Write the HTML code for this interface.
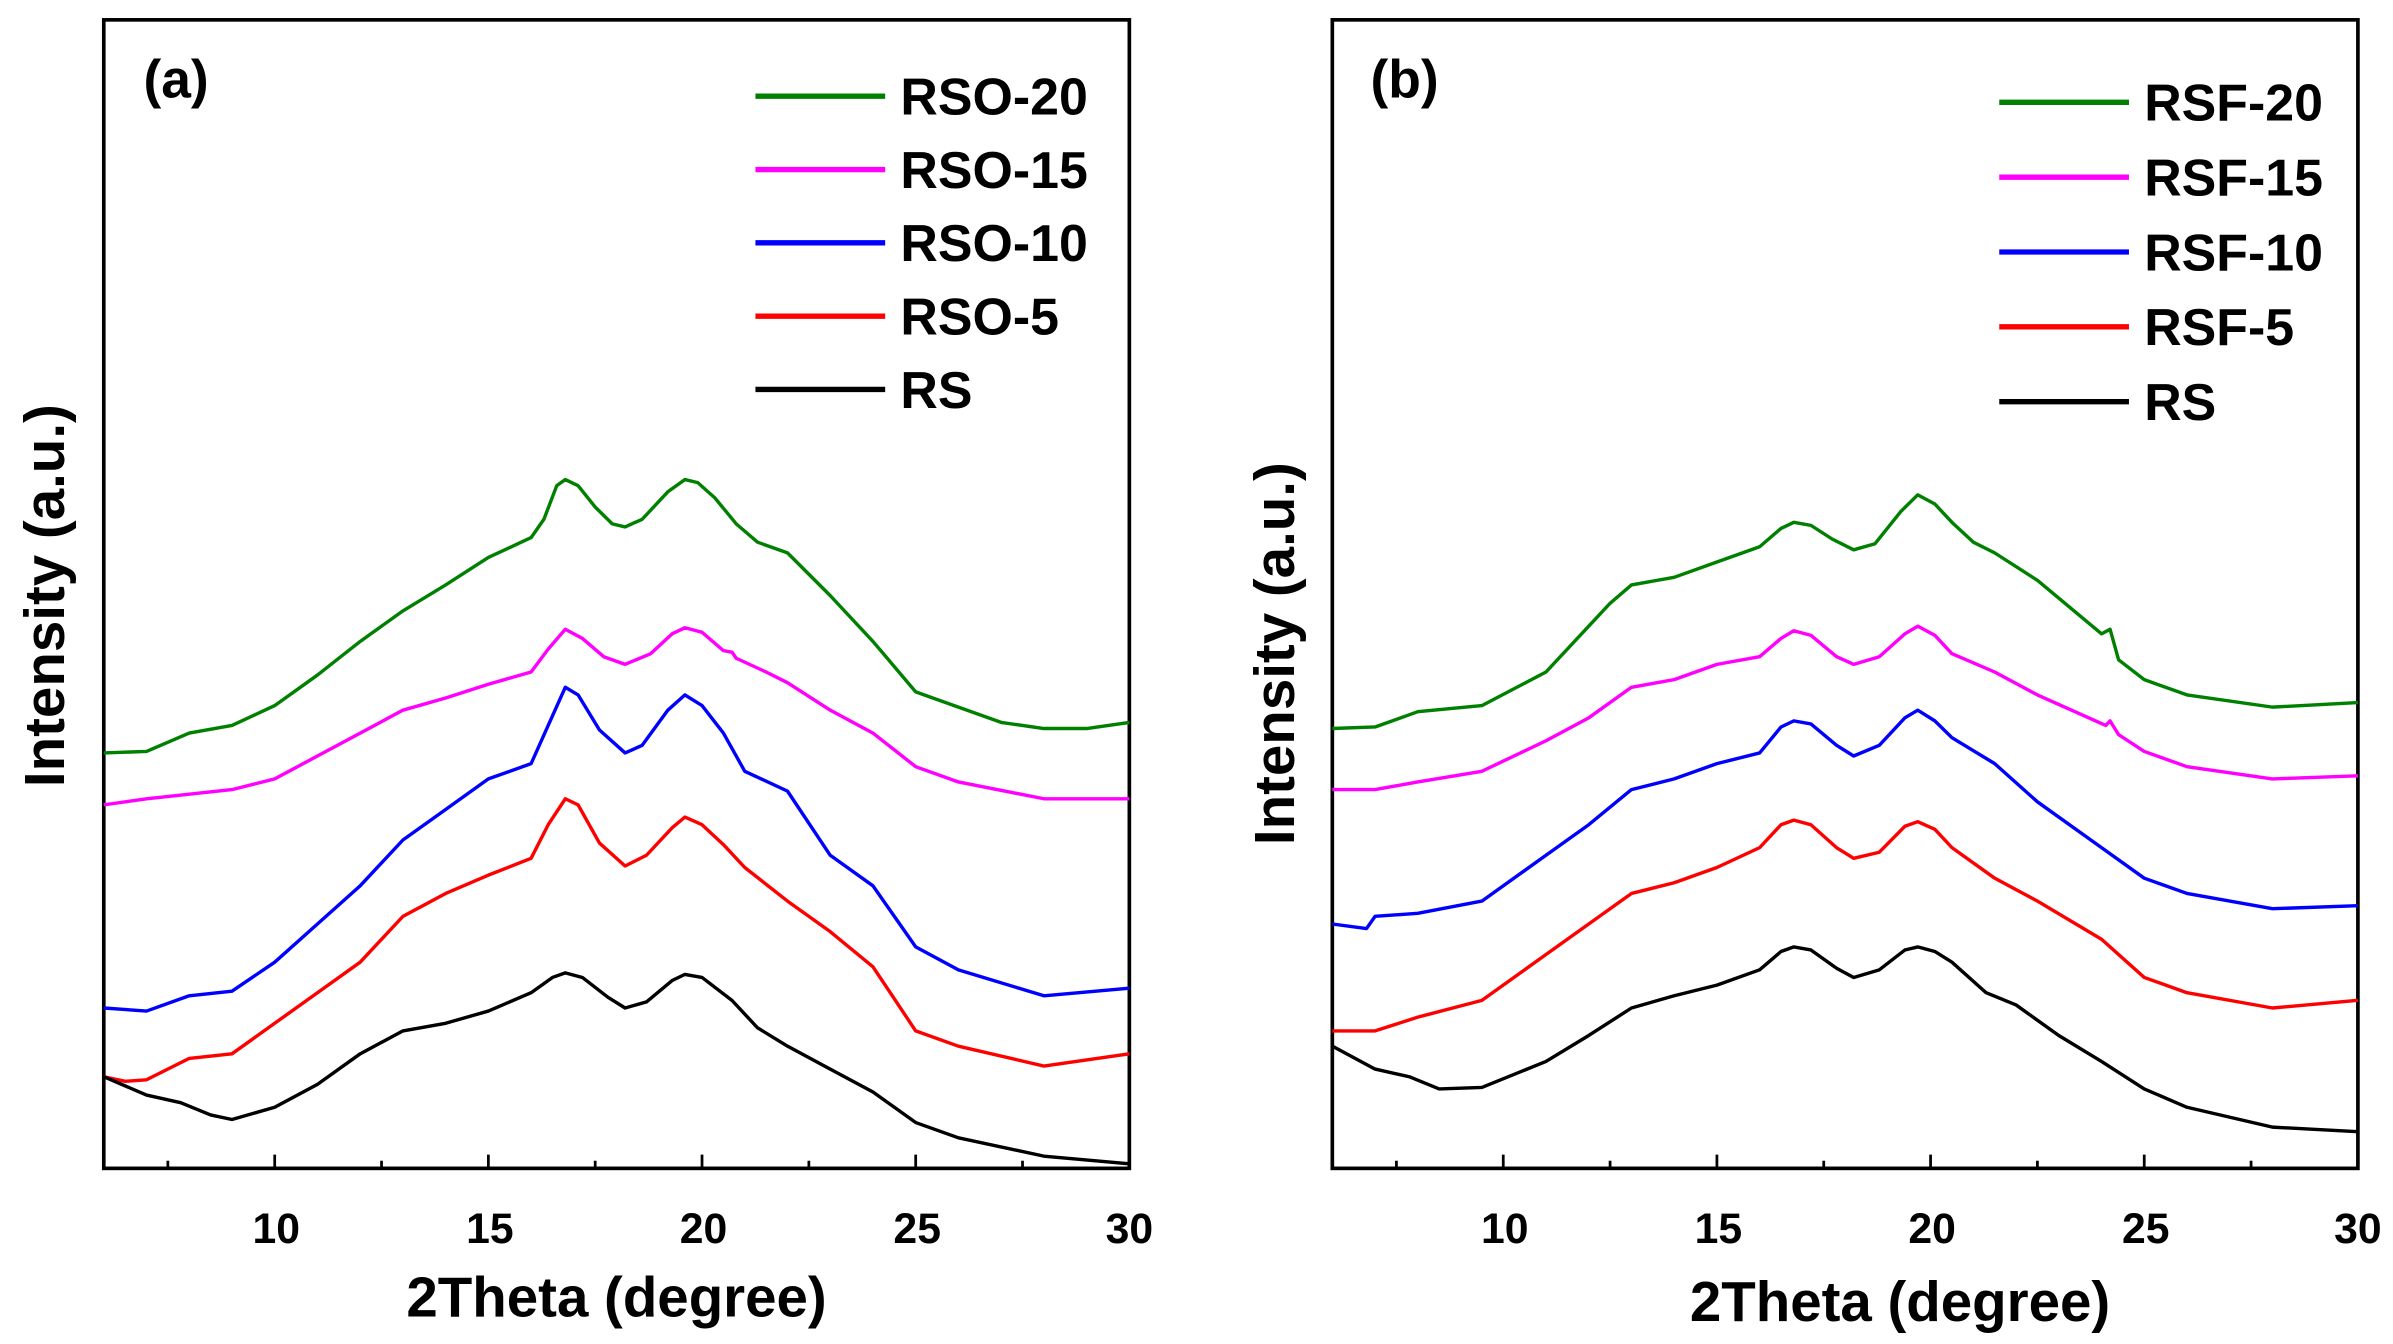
<!DOCTYPE html>
<html><head><style>html,body{margin:0;padding:0;background:#fff}svg{display:block}</style></head>
<body>
<svg width="2393" height="1344" viewBox="0 0 1568 880" preserveAspectRatio="none" xmlns="http://www.w3.org/2000/svg" font-family="Liberation Sans, Arial, sans-serif" font-weight="bold">
<defs><style>polyline{fill:none;stroke-width:3.4;vector-effect:non-scaling-stroke;stroke-linejoin:round}</style></defs>
<!-- Panel a -->
<rect x="68" y="13" width="672" height="752" fill="none" stroke="#000" stroke-width="2.4"/>
<g stroke="#000" stroke-width="1.8">
<line x1="180" y1="765" x2="180" y2="756"/><line x1="320" y1="765" x2="320" y2="756"/><line x1="460" y1="765" x2="460" y2="756"/><line x1="600" y1="765" x2="600" y2="756"/>
<line x1="110" y1="765" x2="110" y2="760"/><line x1="250" y1="765" x2="250" y2="760"/><line x1="390" y1="765" x2="390" y2="760"/><line x1="530" y1="765" x2="530" y2="760"/><line x1="670" y1="765" x2="670" y2="760"/>
</g>
<g font-size="28" text-anchor="middle">
<text x="181" y="814">10</text><text x="321" y="814">15</text><text x="461" y="814">20</text><text x="601" y="814">25</text><text x="740" y="814">30</text>
</g>
<text x="404" y="862" font-size="37" text-anchor="middle">2Theta (degree)</text>
<text transform="translate(42,390) rotate(-90)" font-size="37" text-anchor="middle">Intensity (a.u.)</text>
<text x="94" y="64" font-size="35">(a)</text>
<g font-size="34">
<line x1="495" y1="63" x2="580" y2="63" stroke="#008000" stroke-width="3.5"/><text x="590" y="75">RSO-20</text>
<line x1="495" y1="111" x2="580" y2="111" stroke="#ff00ff" stroke-width="3.5"/><text x="590" y="123">RSO-15</text>
<line x1="495" y1="159" x2="580" y2="159" stroke="#0000ff" stroke-width="3.5"/><text x="590" y="171">RSO-10</text>
<line x1="495" y1="207" x2="580" y2="207" stroke="#ff0000" stroke-width="3.5"/><text x="590" y="219">RSO-5</text>
<line x1="495" y1="255" x2="580" y2="255" stroke="#000" stroke-width="3.5"/><text x="590" y="267">RS</text>
</g>
<g transform="translate(-100,0) scale(28,1)">
<polyline stroke="#008000" points="6,493 7,492 8,480 9,475 10,462 11,442 12,420 13,400 14,383 15,365 16,352 16.3,340 16.6,318 16.8,314 17.1,318 17.5,332 17.9,343 18.2,345 18.6,340 19.2,322 19.6,314 19.9,316 20.3,326 20.8,343 21.3,355 22,362 23,390 24,420 25,453 26,463 27,473 28,477 29,477 30,473"/>
<polyline stroke="#ff00ff" points="6,527 7,523 8,520 9,517 10,510 11,495 12,480 13,465 14,457 15,448 16,440 16.4,425 16.8,412 17.2,418 17.7,430 18.2,435 18.8,428 19.3,415 19.6,411 20,414 20.5,426 20.7,427 20.8,431 21.5,440 22,447 23,465 24,480 25,502 26,512 28,523 30,523"/>
<polyline stroke="#0000ff" points="6,660 7,662 8,652 9,649 10,630 11,605 12,580 13,550 14,530 15,510 16,500 16.4,475 16.8,450 17.1,455 17.6,478 18.2,493 18.6,488 19.2,465 19.6,455 20,462 20.5,480 21,505 22,518 23,560 24,580 25,620 26,635 28,652 30,647"/>
<polyline stroke="#ff0000" points="6,705 6.5,708 7,707 8,693 9,690 10,670 11,650 12,630 13,600 14,585 15,573 16,562 16.4,540 16.8,523 17.1,527 17.6,552 18.2,567 18.7,560 19.3,542 19.6,535 20,540 20.5,553 21,568 22,590 23,610 24,633 25,675 26,685 28,698 30,690"/>
<polyline stroke="#000" points="6,705 7,717 7.8,722 8.5,730 9,733 10,725 11,710 12,690 13,675 14,670 15,662 16,650 16.5,640 16.8,637 17.2,640 17.8,653 18.2,660 18.7,656 19.3,642 19.6,638 20,640 20.7,655 21.3,673 22,685 23,700 24,715 25,735 26,745 28,757 30,762"/>
</g>
<!-- Panel b -->
<rect x="873" y="13" width="672" height="752" fill="none" stroke="#000" stroke-width="2.4"/>
<g stroke="#000" stroke-width="1.8">
<line x1="985" y1="765" x2="985" y2="756"/><line x1="1125" y1="765" x2="1125" y2="756"/><line x1="1265" y1="765" x2="1265" y2="756"/><line x1="1405" y1="765" x2="1405" y2="756"/>
<line x1="915" y1="765" x2="915" y2="760"/><line x1="1055" y1="765" x2="1055" y2="760"/><line x1="1195" y1="765" x2="1195" y2="760"/><line x1="1335" y1="765" x2="1335" y2="760"/><line x1="1475" y1="765" x2="1475" y2="760"/>
</g>
<g font-size="28" text-anchor="middle">
<text x="986" y="814">10</text><text x="1126" y="814">15</text><text x="1266" y="814">20</text><text x="1406" y="814">25</text><text x="1545" y="814">30</text>
</g>
<text x="1245" y="865" font-size="37" text-anchor="middle">2Theta (degree)</text>
<text transform="translate(848,428) rotate(-90)" font-size="37" text-anchor="middle">Intensity (a.u.)</text>
<text x="898" y="64" font-size="35">(b)</text>
<g font-size="34">
<line x1="1310" y1="67" x2="1395" y2="67" stroke="#008000" stroke-width="3.5"/><text x="1405" y="79">RSF-20</text>
<line x1="1310" y1="116" x2="1395" y2="116" stroke="#ff00ff" stroke-width="3.5"/><text x="1405" y="128">RSF-15</text>
<line x1="1310" y1="165" x2="1395" y2="165" stroke="#0000ff" stroke-width="3.5"/><text x="1405" y="177">RSF-10</text>
<line x1="1310" y1="214" x2="1395" y2="214" stroke="#ff0000" stroke-width="3.5"/><text x="1405" y="226">RSF-5</text>
<line x1="1310" y1="263" x2="1395" y2="263" stroke="#000" stroke-width="3.5"/><text x="1405" y="275">RS</text>
</g>
<g transform="translate(705,0) scale(28,1)">
<polyline stroke="#008000" points="6,477 7,476 8,466 9.5,462 11,440 12,410 12.5,395 13,383 14,378 15,368 16,358 16.5,346 16.8,342 17.2,344 17.7,353 18.2,360 18.7,356 19.3,335 19.7,324 20.1,330 20.5,342 21,355 21.5,362 22.5,380 24,415 24.2,412 24.4,432 25,445 26,455 28,463 30,460"/>
<polyline stroke="#ff00ff" points="6,517 7,517 8,512 9.5,505 11,485 12,470 13,450 14,445 15,435 16,430 16.5,418 16.8,413 17.2,416 17.8,430 18.2,435 18.8,430 19.4,415 19.7,410 20.1,416 20.5,428 21.5,440 22.5,455 24.1,475 24.2,472 24.4,481 25,492 26,502 28,510 30,508"/>
<polyline stroke="#0000ff" points="6,605 6.8,608 7,600 8,598 9.5,590 11,560 12,540 13,517 14,510 15,500 16,493 16.5,476 16.8,472 17.2,474 17.8,488 18.2,495 18.8,488 19.4,470 19.7,465 20.1,472 20.5,483 21.5,500 22.5,525 24,555 25,575 26,585 28,595 30,593"/>
<polyline stroke="#ff0000" points="6,675 7,675 8,666 9.5,655 11,625 12,605 13,585 14,578 15,568 16,555 16.5,540 16.8,537 17.2,540 17.8,555 18.2,562 18.8,558 19.4,541 19.7,538 20.1,543 20.5,555 21.5,575 22.5,590 24,615 25,640 26,650 28,660 30,655"/>
<polyline stroke="#000" points="6,685 7,700 7.8,705 8.5,713 9.5,712 11,695 12,678 13,660 14,652 15,645 16,635 16.5,623 16.8,620 17.2,622 17.8,634 18.2,640 18.8,635 19.4,622 19.7,620 20.1,623 20.5,630 21.3,650 22,658 23,678 24,695 25,713 26,725 28,738 30,741"/>
</g>
</svg>
</body></html>
